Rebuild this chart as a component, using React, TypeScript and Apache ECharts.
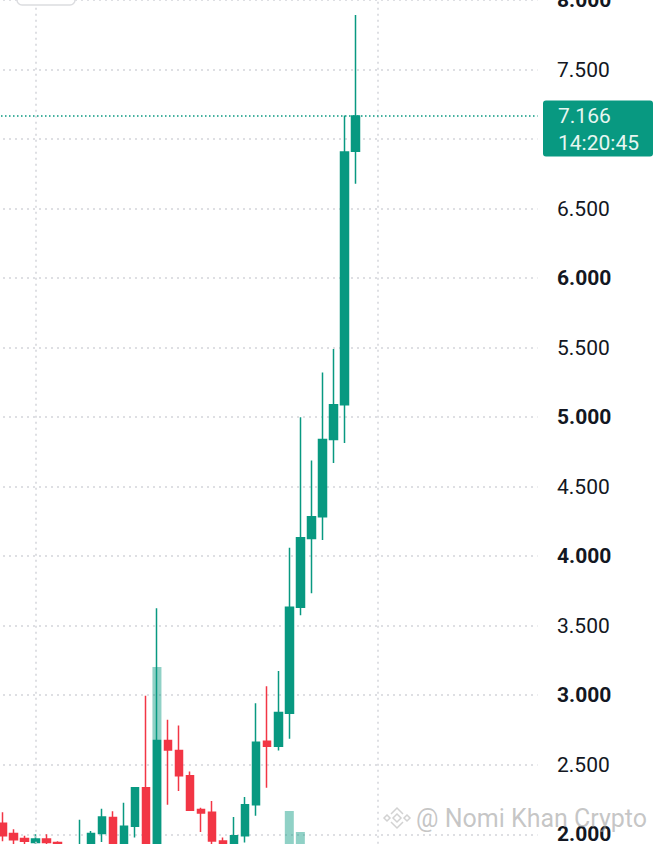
import React, { useEffect, useRef } from "react";
import * as echarts from "echarts";

// ---- data ----
// candle values: [open, close, low, high]
const candles: number[][] = [
  [2.079, 1.99, 1.95, 2.158],
  [2.005, 1.96, 1.93, 2.036],
  [1.97, 1.95, 1.91, 1.99],
  [1.94, 1.966, 1.92, 2.0],
  [1.966, 1.94, 1.92, 2.0],
  [1.94, 1.935, 1.91, 1.95],
  [1.91, 1.9, 1.88, 1.92],
  [1.88, 1.92, 1.86, 2.105],
  [1.92, 2.005, 1.9, 2.024],
  [2.005, 2.124, 1.945, 2.184],
  [2.12, 1.92, 1.9, 2.165],
  [1.92, 2.057, 1.9, 2.227],
  [2.057, 2.335, 1.976, 2.34],
  [2.335, 1.92, 1.88, 2.997],
  [1.92, 2.674, 1.9, 3.626],
  [2.674, 2.607, 2.213, 2.823],
  [2.603, 2.421, 2.311, 2.782],
  [2.421, 2.172, 2.17, 2.452],
  [2.179, 2.153, 2.017, 2.191],
  [2.158, 1.952, 1.92, 2.239],
  [1.952, 1.93, 1.9, 1.976],
  [1.93, 1.99, 1.9, 2.124],
  [1.99, 2.213, 1.94, 2.268],
  [2.213, 2.662, 2.134, 2.942],
  [2.669, 2.633, 2.335, 3.064],
  [2.633, 2.875, 2.603, 3.174],
  [2.87, 3.632, 2.687, 4.061],
  [3.632, 4.133, 3.576, 4.999],
  [4.128, 4.283, 3.733, 4.688],
  [4.283, 4.839, 4.116, 5.321],
  [4.839, 5.09, 4.671, 5.491],
  [5.09, 6.907, 4.814, 7.17],
  [6.912, 7.166, 6.679, 7.893],
];
const volumes: number[] = [
  8, 7, 6, 6, 5, 5, 4, 9, 7, 10, 11, 9, 12, 18, 79, 16, 12, 10, 8, 9, 7, 9,
  11, 15, 13, 14, 31, 24, 17, 16, 15, 19, 14,
];
const emptySlots = 16;
const lastPrice = 7.166;
const countdown = "14:20:45";
const watermark = "@ Nomi Khan Crypto";
const gridMarkSlots = [3, 34];

const UP = "#089981";
const DOWN = "#F23645";

export default function App() {
  const ref = useRef<HTMLDivElement>(null);
  useEffect(() => {
    if (!ref.current) return;
    const chart = echarts.init(ref.current, null, { renderer: "svg" });
    const total = candles.length + emptySlots;
    const categories = Array.from({ length: total }, (_, i) => `S${i}`);
    const gridStyle = { color: "#d3d5da", width: 1.5, type: [2, 4] as any };
    chart.setOption({
      animation: false,
      backgroundColor: "#ffffff",
      textStyle: { fontFamily: "Roboto" },
      grid: [
        { left: 0, right: 124.5, top: 6.4, bottom: 16.2 },
        { left: 0, right: 124.5, bottom: 16, height: 300 },
      ],
      xAxis: [
        {
          type: "category",
          data: categories,
          gridIndex: 0,
          axisLine: { show: false },
          axisTick: { show: false },
          axisLabel: { show: false },
          splitLine: { show: false },
        },
        {
          type: "category",
          data: categories,
          gridIndex: 1,
          axisLine: { show: false },
          axisTick: { show: false },
          axisLabel: { show: false },
          splitLine: { show: false },
        },
      ],
      yAxis: [
        {
          type: "value",
          gridIndex: 0,
          position: "right",
          min: 1.5,
          max: 8.5,
          interval: 0.5,
          axisLine: { show: false },
          axisTick: { show: false },
          splitLine: { show: true, lineStyle: gridStyle },
          axisLabel: {
            margin: 19.5,
            formatter: (v: number) => {
              if (Math.abs(v - lastPrice) < 0.25) return "";
              return Math.abs(v - Math.round(v)) < 1e-6
                ? `{b|${v.toFixed(3)}}`
                : `{n|${v.toFixed(3)}}`;
            },
            rich: {
              b: { fontSize: 21, fontWeight: "bold", color: "#131722", fontFamily: "Roboto" },
              n: { fontSize: 21, fontWeight: "normal", color: "#131722", fontFamily: "Roboto" },
            },
          },
        },
        {
          type: "value",
          gridIndex: 1,
          min: 0,
          max: 100,
          show: false,
          splitLine: { show: false },
        },
      ],
      series: [
        {
          type: "bar",
          xAxisIndex: 1,
          yAxisIndex: 1,
          barWidth: 9,
          z: 1,
          data: volumes.map((v, i) => ({
            value: v,
            itemStyle: {
              color:
                candles[i][1] >= candles[i][0]
                  ? "rgba(8,153,129,0.45)"
                  : "rgba(242,54,69,0.45)",
            },
          })),
        },
        {
          type: "candlestick",
          xAxisIndex: 0,
          yAxisIndex: 0,
          barWidth: 8,
          z: 3,
          itemStyle: {
            color: UP,
            color0: DOWN,
            borderColor: UP,
            borderColor0: DOWN,
            borderWidth: 1.5,
          },
          data: candles,
          markLine: {
            silent: true,
            symbol: "none",
            label: { show: false },
            data: [
              ...gridMarkSlots.map((s) => ({
                xAxis: categories[s],
                lineStyle: { ...gridStyle },
              })),
              {
                yAxis: lastPrice,
                lineStyle: { color: UP, width: 1.5, type: [1.5, 2.5] },
              },
            ],
          },
        },
      ],
    });

    const py = chart.convertToPixel({ yAxisIndex: 0 }, lastPrice) as number;
    chart.setOption({
      graphic: [
        {
          type: "rect",
          z: 100,
          shape: { x: 546, y: py - 15.6, width: 110, height: 56, r: 3 },
          style: { fill: UP },
        },
        {
          type: "text",
          z: 101,
          x: 561,
          y: py,
          style: {
            text: lastPrice.toFixed(3),
            fill: "#e6f6f1",
            font: "21px Roboto",
            verticalAlign: "middle",
          },
        },
        {
          type: "text",
          z: 101,
          x: 561,
          y: py + 27,
          style: {
            text: countdown,
            fill: "#e6f6f1",
            font: "21px Roboto",
            verticalAlign: "middle",
          },
        },
        {
          type: "rect",
          z: 100,
          shape: { x: 20, y: 60, width: 58, height: 25, r: 5 },
          style: { fill: "#ffffff", stroke: "#dcdde0", lineWidth: 1.5 },
        },
        {
          type: "group",
          z: 100,
          x: 400,
          y: 898,
          children: [
            {
              type: "polygon",
              shape: { points: [[0, -4], [4, 0], [0, 4], [-4, 0]] },
              style: { fill: "none", stroke: "#d2d2d2", lineWidth: 1.5 },
            },
            {
              type: "polyline",
              shape: { points: [[-6, -4], [0, -10], [6, -4]] },
              style: { fill: "none", stroke: "#d2d2d2", lineWidth: 1.5 },
            },
            {
              type: "polyline",
              shape: { points: [[-6, 4], [0, 10], [6, 4]] },
              style: { fill: "none", stroke: "#d2d2d2", lineWidth: 1.5 },
            },
            {
              type: "polygon",
              shape: { points: [[-10, -3], [-7, 0], [-10, 3], [-13, 0]] },
              style: { fill: "none", stroke: "#d2d2d2", lineWidth: 1.5 },
            },
            {
              type: "polygon",
              shape: { points: [[10, -3], [13, 0], [10, 3], [7, 0]] },
              style: { fill: "none", stroke: "#d2d2d2", lineWidth: 1.5 },
            },
          ],
        },
        {
          type: "text",
          z: 100,
          x: 419,
          y: 898,
          style: {
            text: watermark,
            fill: "rgba(160,160,160,0.6)",
            font: "25px Roboto",
            verticalAlign: "middle",
          },
        },
      ],
    });
    return () => chart.dispose();
  }, []);
  return (
    <div
      ref={ref}
      style={{
        position: "fixed",
        left: -3,
        top: -80,
        width: 665,
        height: 1000,
        background: "#ffffff",
      }}
    />
  );
}
